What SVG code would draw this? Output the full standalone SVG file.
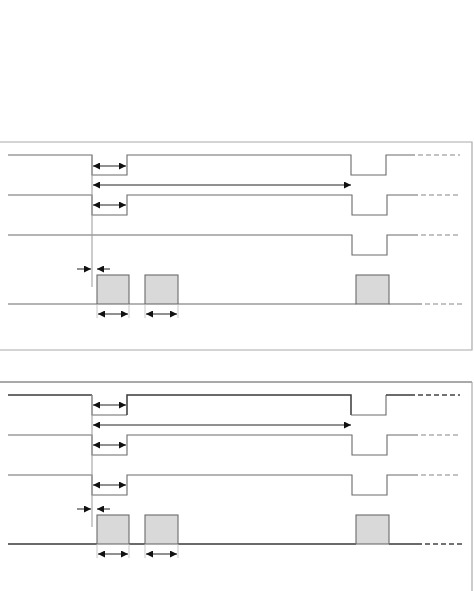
<svg xmlns="http://www.w3.org/2000/svg" width="474" height="591" viewBox="0 0 474 591">
<defs>
<marker id="ah" viewBox="0 0 10 10" refX="10" refY="5" markerWidth="8" markerHeight="7" markerUnits="userSpaceOnUse" orient="auto-start-reverse">
<path d="M0,0 L10,5 L0,10 z" fill="#111"/>
</marker>
<style>
.sig{fill:none;stroke:#6a6a6a;stroke-width:1.1}
.sig2{fill:none;stroke:#3a3a3a;stroke-width:1.5}
.dash{fill:none;stroke:#888;stroke-width:1.1;stroke-dasharray:5,3}
.dash2{fill:none;stroke:#444;stroke-width:1.5;stroke-dasharray:5,3}
.pulse{fill:#d9d9d9;stroke:#6a6a6a;stroke-width:1.1}
.dim{fill:none;stroke:#222;stroke-width:1;marker-start:url(#ah);marker-end:url(#ah)}
.one{fill:none;stroke:#222;stroke-width:1;marker-end:url(#ah)}
.ref{fill:none;stroke:#999;stroke-width:1}
.ext{fill:none;stroke:#bbb;stroke-width:0.8}
.frame{fill:none;stroke:#aaa;stroke-width:1.2}
.frame2{fill:none;stroke:#555;stroke-width:1.2}
</style>
</defs>
<rect width="474" height="591" fill="#fff"/>

<g id="panel1">
<path class="frame" d="M0,142 H472 V350 H0"/>
<g id="p1-sig1">
<path class="sig" d="M8,155 H92 V175 H127 V155 H351 V175 H386 V155 H415"/>
<path class="dash" d="M418,155 H460"/>
</g>
<g id="p1-sig2">
<path class="sig" d="M8,195 H92 V215 H127 V195 H352 V215 H387 V195 H418"/>
<path class="dash" d="M421,195 H460"/>
</g>
<g id="p1-sig3">
<path class="sig" d="M8,235 H352 V255 H387 V235 H418"/>
<path class="dash" d="M421,235 H460"/>
</g>
<g id="p1-sig4">
<path class="sig" d="M8,304 H97 M129,304 H145 M178,304 H356 M389,304 H422"/>
<rect class="pulse" x="97" y="275" width="32" height="29"/>
<rect class="pulse" x="145" y="275" width="33" height="29"/>
<rect class="pulse" x="356" y="275" width="33" height="29"/>
<path class="dash" d="M425,304 H463"/>
</g>
</g>

<g id="panel2">
<path class="frame2" d="M0,382 H472"/>
<path class="frame" d="M472,382 V591"/>
<g id="p2-sig1">
<path class="sig2" d="M8,395 H92"/>
<path class="sig" d="M92,395 V415 H127"/>
<path class="sig2" d="M127,415 V395 H351 V415"/>
<path class="sig" d="M351,415 H386 V395"/>
<path class="sig2" d="M386,395 H415"/>
<path class="dash2" d="M418,395 H460"/>
</g>
<g id="p2-sig2">
<path class="sig" d="M8,435 H92 V455 H127 V435 H352 V455 H387 V435 H418"/>
<path class="dash" d="M421,435 H460"/>
</g>
<g id="p2-sig3">
<path class="sig" d="M8,475 H92 V495 H127 V475 H352 V495 H387 V475 H418"/>
<path class="dash" d="M421,475 H460"/>
</g>
<g id="p2-sig4">
<path class="sig2" d="M8,544 H97 M129,544 H145 M178,544 H356 M389,544 H422"/>
<rect class="pulse" x="97" y="515" width="32" height="29"/>
<rect class="pulse" x="145" y="515" width="33" height="29"/>
<rect class="pulse" x="356" y="515" width="33" height="29"/>
<path class="dash2" d="M425,544 H463"/>
</g>
</g>

<g id="connectors">
<path class="ref" d="M92,155 V287"/>
<line class="dim" x1="93" y1="166" x2="126" y2="166"/>
<line class="dim" x1="93" y1="185" x2="351" y2="185"/>
<line class="dim" x1="93" y1="205" x2="126" y2="205"/>
<line class="one" x1="77" y1="269" x2="91" y2="269"/>
<line class="one" x1="110" y1="269" x2="97" y2="269"/>
<path class="ext" d="M97,304 V318 M129,304 V318 M145,304 V318 M178,304 V318"/>
<line class="dim" x1="98" y1="314" x2="128" y2="314"/>
<line class="dim" x1="146" y1="314" x2="177" y2="314"/>

<path class="ref" d="M92,395 V527"/>
<line class="dim" x1="93" y1="405" x2="126" y2="405"/>
<line class="dim" x1="93" y1="425" x2="351" y2="425"/>
<line class="dim" x1="93" y1="445" x2="126" y2="445"/>
<line class="dim" x1="93" y1="485" x2="126" y2="485"/>
<line class="one" x1="77" y1="509" x2="91" y2="509"/>
<line class="one" x1="110" y1="509" x2="97" y2="509"/>
<path class="ext" d="M97,544 V558 M129,544 V558 M145,544 V558 M178,544 V558"/>
<line class="dim" x1="98" y1="554" x2="128" y2="554"/>
<line class="dim" x1="146" y1="554" x2="177" y2="554"/>
</g>
</svg>
